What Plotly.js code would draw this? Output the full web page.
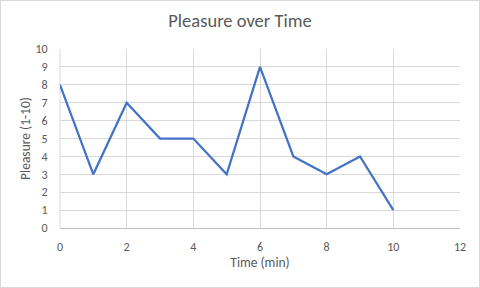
<!DOCTYPE html>
<html><head><meta charset="utf-8">
<script src="https://cdn.plot.ly/plotly-3.0.1.min.js"></script>
<style>html,body{margin:0;padding:0;background:#fff}#wrap{position:relative;width:480px;height:288px}#chart{width:480px;height:288px}#frame{position:absolute;left:0;top:0;width:478px;height:286px;border:1px solid #D9D9D9;pointer-events:none}</style>
</head><body><div id="wrap"><div id="chart"></div><div id="frame"></div></div>
<script>
const timeMin = [0,1,2,3,4,5,6,7,8,9,10];
const pleasure = [8,3,7,5,5,3,9,4,3,4,1];
const xTicks = [0,2,4,6,8,10,12];
const yTicks = [0,1,2,3,4,5,6,7,8,9,10];
const font = 'Carlito, Calibri, "Liberation Sans", sans-serif';
Plotly.newPlot('chart', [{
  x: timeMin, y: pleasure, type: 'scatter', mode: 'lines',
  line: {color: '#4472C4', width: 2.25}, hoverinfo: 'none'
}], {
  width: 480, height: 288,
  margin: {l: 60, r: 20, t: 49, b: 60},
  paper_bgcolor: '#fff', plot_bgcolor: '#fff',
  showlegend: false,
  title: {text: 'Pleasure over Time', font: {family: font, size: 18.5, color: '#595959'}, x: 0.5, xanchor: 'center', y: 0.93, yanchor: 'middle'},
  xaxis: {range: [0, 12], tickvals: xTicks, ticktext: xTicks.map(String), showgrid: true, gridcolor: '#D9D9D9', gridwidth: 1,
    zeroline: false, showline: true, linecolor: '#BFBFBF', linewidth: 1, ticks: 'outside', ticklen: 8, tickcolor: 'rgba(0,0,0,0)',
    tickfont: {family: font, size: 12, color: '#595959'},
    title: {text: 'Time (min)', font: {family: font, size: 13.5, color: '#595959'}, standoff: 4}},
  yaxis: {range: [0, 10], tickvals: yTicks, ticktext: yTicks.map(String), showgrid: true, gridcolor: '#D9D9D9', gridwidth: 1,
    zeroline: false, showline: false, ticks: 'outside', ticklen: 9, tickcolor: 'rgba(0,0,0,0)',
    tickfont: {family: font, size: 12, color: '#595959'},
    title: {text: 'Pleasure (1-10)', font: {family: font, size: 13.5, color: '#595959'}, standoff: 1}},
  shapes: [
    {type: 'line', xref: 'x domain', yref: 'y domain', x0: 0, x1: 0, y0: 0, y1: 1, line: {color: '#D9D9D9', width: 1}, layer: 'below'}
  ]
}, {staticPlot: true, displayModeBar: false});
</script>
</body></html>
